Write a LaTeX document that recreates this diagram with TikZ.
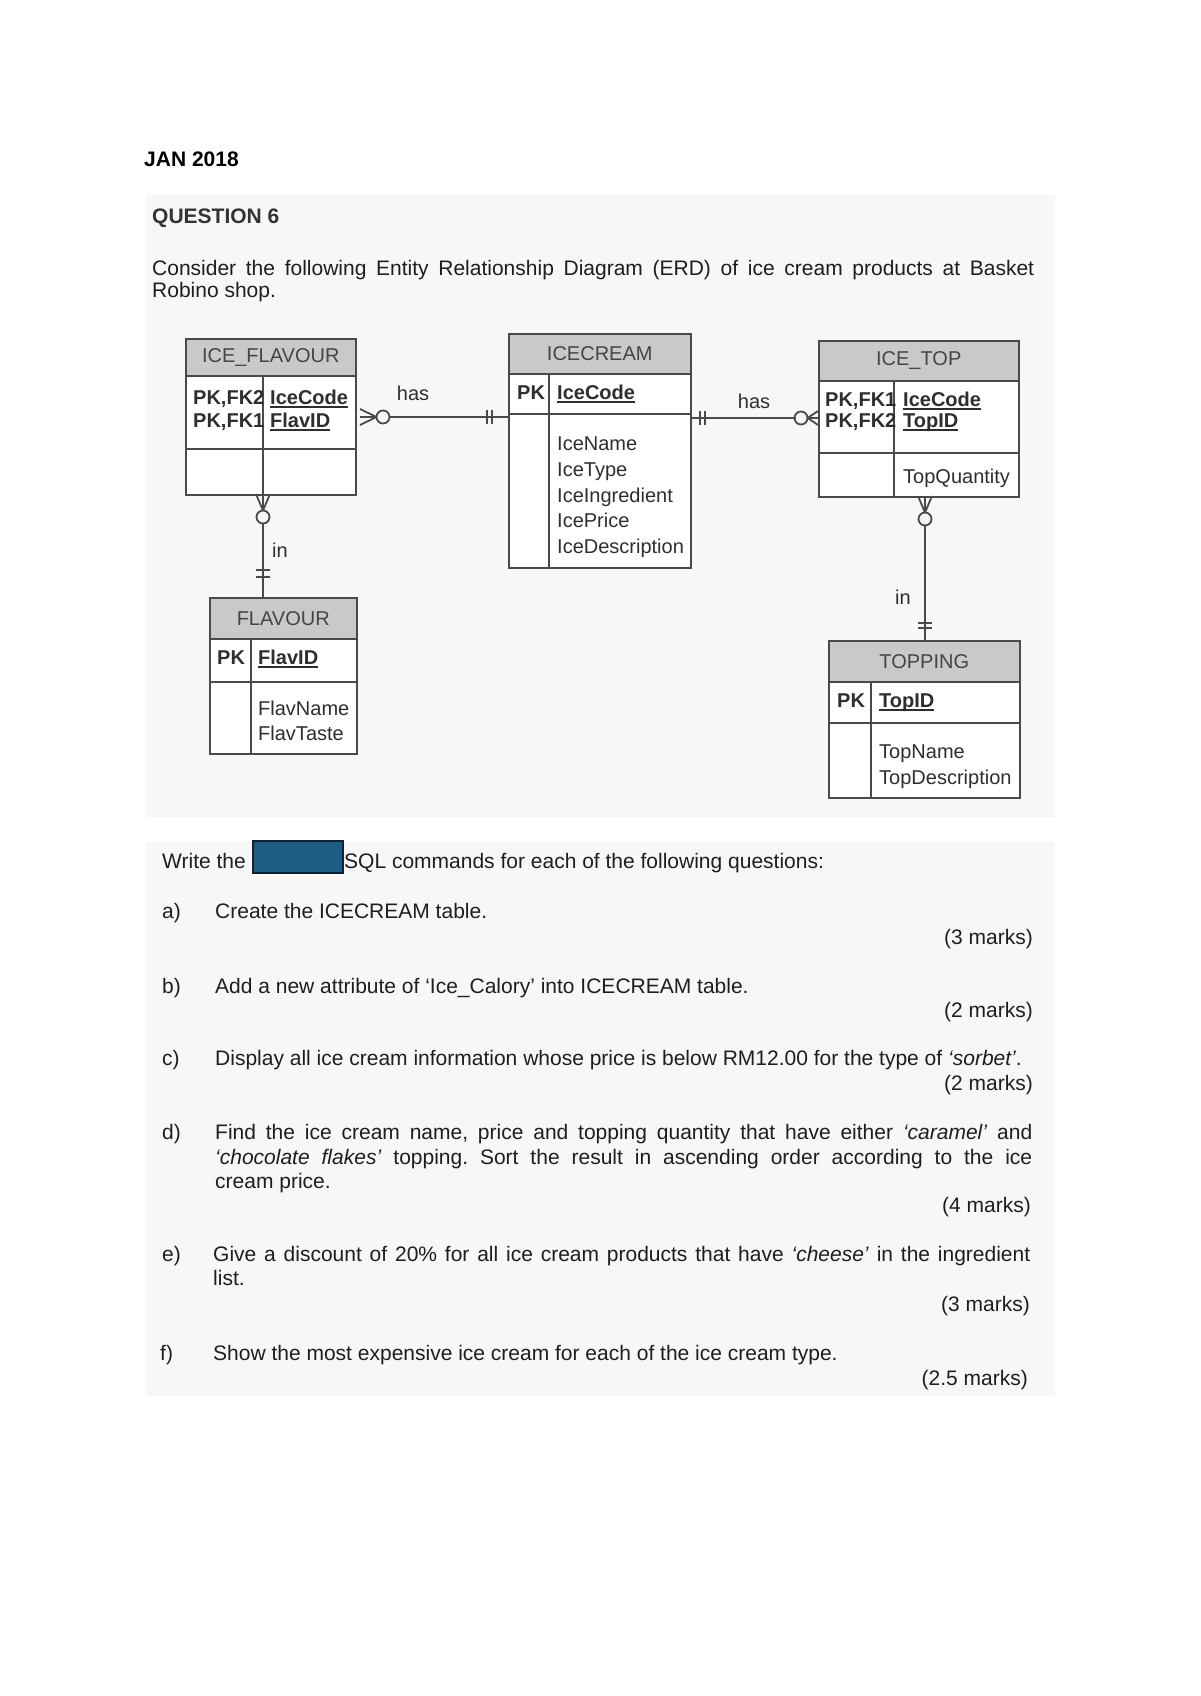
\documentclass[tikz,border=0pt]{standalone}
\usepackage{fontspec}
\setmainfont{Liberation Sans}
\usetikzlibrary{positioning}
\frenchspacing

\definecolor{panelgray}{HTML}{F7F7F7}
\definecolor{hdrgray}{HTML}{C9C9C9}
\definecolor{linegray}{HTML}{4A4A4A}
\definecolor{inkgray}{HTML}{2E2E2E}
\definecolor{hdrink}{HTML}{454545}
\definecolor{qink}{HTML}{1E1E1E}
\definecolor{qhead}{HTML}{333333}
\definecolor{redactblue}{HTML}{1E5C84}
\definecolor{redactedge}{HTML}{0E2233}

\newcommand{\erdfont}{\fontsize{20}{24}\selectfont}
\newcommand{\qfont}{\fontsize{21}{24.4}\selectfont}
\newcommand{\keyul}[1]{\setbox0=\hbox{#1}\rlap{\rule[-3.5pt]{\wd0}{1.4pt}}\box0}

\tikzset{
  tbox/.style={draw=linegray, line width=1.5pt, fill=white, anchor=north west, inner sep=0pt},
  thead/.style={tbox, fill=hdrgray, text=hdrink, font=\erdfont},
  tline/.style={draw=linegray, line width=1.5pt},
  conn/.style={draw=linegray, line width=1.8pt},
  fld/.style={anchor=base west, inner sep=0pt, text=inkgray, font=\erdfont},
  lbl/.style={inner sep=0pt, text=inkgray, font=\erdfont},
  qtext/.style={anchor=base west, inner sep=0pt, text=qink, font=\qfont},
  marks/.style={anchor=base east, inner sep=0pt, text=qink, font=\qfont},
}

\begin{document}
\begin{tikzpicture}[x=1pt, y=-1pt]
\useasboundingbox (0,0) rectangle (1200,1696);
\fill[white] (0,0) rectangle (1200,1696);
\fill[panelgray] (146,195) rectangle (1055,817);
\fill[panelgray] (146,842) rectangle (1055,1396);

\node[qtext, text=black] (jan) at (144,166.5) {\bfseries JAN 2018};
\node[qtext, text=qhead] (qno) at (152,224) {\bfseries QUESTION 6};
\node[qtext] (intro1) at (152,276) {\hbox to 882pt{Consider the following Entity Relationship Diagram (ERD) of ice cream products at Basket}};
\node[qtext] (intro2) at (152,298) {Robino shop.};

% ICE_FLAVOUR
\node[tbox, minimum width=170pt, minimum height=156pt] (iceflav) at (185,338) {};
\node[thead, minimum width=170pt, minimum height=37pt] (iceflavh) at (185,338) {ICE\_FLAVOUR};
\draw[tline] (185,449) -- (355,449);
\draw[tline] (263,375) -- (263,494);
\node[fld] (ifpk1) at (193,404) {\bfseries PK,FK2};
\node[fld] (ifk1) at (270,404) {\bfseries\keyul{IceCode}};
\node[fld] (ifpk2) at (193,427) {\bfseries PK,FK1};
\node[fld] (ifk2) at (270,427) {\bfseries\keyul{FlavID}};

% ICECREAM
\node[tbox, minimum width=182pt, minimum height=234pt] (icecream) at (508,333) {};
\node[thead, minimum width=182pt, minimum height=40pt] (icecreamh) at (508,333) {ICECREAM};
\draw[tline] (508,414) -- (690,414);
\draw[tline] (549,373) -- (549,567);
\node[fld] (icpk) at (517,399) {\bfseries PK};
\node[fld] (ick) at (557,399) {\bfseries\keyul{IceCode}};
\node[fld] (ica1) at (557,450) {IceName};
\node[fld] (ica2) at (557,476) {IceType};
\node[fld] (ica3) at (557,502) {IceIngredient};
\node[fld] (ica4) at (557,527) {IcePrice};
\node[fld] (ica5) at (557,553) {IceDescription};

% ICE_TOP
\node[tbox, minimum width=200pt, minimum height=156pt] (icetop) at (818,340) {};
\node[thead, minimum width=200pt, minimum height=40pt] (icetoph) at (818,340) {ICE\_TOP};
\draw[tline] (818,453) -- (1018,453);
\draw[tline] (894,380) -- (894,496);
\node[fld] (itpk1) at (825,406) {\bfseries PK,FK1};
\node[fld] (itk1) at (903,406) {\bfseries\keyul{IceCode}};
\node[fld] (itpk2) at (825,427) {\bfseries PK,FK2};
\node[fld] (itk2) at (903,427) {\bfseries\keyul{TopID}};
\node[fld] (ita1) at (903,483) {TopQuantity};

% FLAVOUR
\node[tbox, minimum width=147pt, minimum height=156pt] (flavour) at (209,597) {};
\node[thead, minimum width=147pt, minimum height=41pt] (flavourh) at (209,597) {FLAVOUR};
\draw[tline] (209,682) -- (356,682);
\draw[tline] (251,638) -- (251,753);
\node[fld] (flpk) at (217,664) {\bfseries PK};
\node[fld] (flk) at (258,664) {\bfseries\keyul{FlavID}};
\node[fld] (fla1) at (258,715) {FlavName};
\node[fld] (fla2) at (258,740) {FlavTaste};

% TOPPING
\node[tbox, minimum width=191pt, minimum height=157pt] (topping) at (828,640) {};
\node[thead, minimum width=191pt, minimum height=41pt] (toppingh) at (828,640) {TOPPING};
\draw[tline] (828,723) -- (1019,723);
\draw[tline] (871,681) -- (871,797);
\node[fld] (tppk) at (837,707) {\bfseries PK};
\node[fld] (tpk) at (879,707) {\bfseries\keyul{TopID}};
\node[fld] (tpa1) at (879,758) {TopName};
\node[fld] (tpa2) at (879,784) {TopDescription};

% relationships
\coordinate (o1) at (383,417);
\draw[conn] (o1) ++(6.5,0) -- (icecream.west |- o1);
\draw[conn] (o1) circle[radius=6.5];
\draw[conn] (376.5,417) -- (360,409) (376.5,417) -- (360,417) (376.5,417) -- (360,425);
\draw[conn] (487,410) -- (487,424) (492,410) -- (492,424);
\node[lbl] (has1) at (413,393) {has};

\coordinate (o2) at (801,418);
\draw[conn] (icecream.east |- o2) -- ++(104.5,0);
\draw[conn] (o2) circle[radius=6.5];
\draw[conn] (807.5,418) -- (818,411) (807.5,418) -- (818,418) (807.5,418) -- (818,425);
\draw[conn] (700,411) -- (700,425) (705,411) -- (705,425);
\node[lbl] (has2) at (754,401) {has};

\coordinate (o3) at (263,517);
\draw[conn] (o3) ++(0,6.5) -- (flavour.north -| o3);
\draw[conn] (o3) circle[radius=6.5];
\draw[conn] (263,510.5) -- (256,494) (263,510.5) -- (263,494) (263,510.5) -- (270,494);
\draw[conn] (256,570) -- (270,570) (256,577) -- (270,577);
\node[lbl] (in1) at (280,550) {in};

\coordinate (o4) at (925,519);
\draw[conn] (o4) ++(0,6.5) -- (topping.north -| o4);
\draw[conn] (o4) circle[radius=6.5];
\draw[conn] (925,512.5) -- (918,496) (925,512.5) -- (925,496) (925,512.5) -- (932,496);
\draw[conn] (918,623) -- (932,623) (918,628) -- (932,628);
\node[lbl] (in2) at (903,597) {in};

% questions
\node[qtext] (wr1) at (162,868) {Write the};
\node[draw=redactedge, fill=redactblue, line width=2pt, minimum width=90pt, minimum height=32pt, anchor=north west, inner sep=0pt] (redact) at (252,840) {};
\node[qtext] (wr2) at (344,868) {SQL commands for each of the following questions:};

\node[qtext] (qa) at (162,918) {a)};
\node[qtext] (qat) at (215,918) {Create the ICECREAM table.};
\node[marks] (qam) at (1033,944) {(3 marks)};

\node[qtext] (qb) at (162,993) {b)};
\node[qtext] (qbt) at (215,993) {Add a new attribute of `Ice\_Calory' into ICECREAM table.};
\node[marks] (qbm) at (1033,1017) {(2 marks)};

\node[qtext] (qc) at (162,1065) {c)};
\node[qtext] (qct) at (215,1065) {Display all ice cream information whose price is below RM12.00 for the type of \textit{`sorbet'}.};
\node[marks] (qcm) at (1033,1090) {(2 marks)};

\node[qtext] (qd) at (162,1139) {d)};
\node[qtext] (qdt1) at (215,1139) {\hbox to 817pt{Find the ice cream name, price and topping quantity that have either \textit{`caramel'} and}};
\node[qtext] (qdt2) at (215,1164) {\hbox to 817pt{\textit{`chocolate flakes'} topping. Sort the result in ascending order according to the ice}};
\node[qtext] (qdt3) at (215,1188) {cream price.};
\node[marks] (qdm) at (1031,1212) {(4 marks)};

\node[qtext] (qe) at (162,1261) {e)};
\node[qtext] (qet1) at (213,1261) {\hbox to 817pt{Give a discount of 20\% for all ice cream products that have \textit{`cheese'} in the ingredient}};
\node[qtext] (qet2) at (213,1285) {list.};
\node[marks] (qem) at (1030,1311) {(3 marks)};

\node[qtext] (qf) at (160,1360) {f)};
\node[qtext] (qft) at (213,1360) {Show the most expensive ice cream for each of the ice cream type.};
\node[marks] (qfm) at (1028,1385) {(2.5 marks)};
\end{tikzpicture}
\end{document}
